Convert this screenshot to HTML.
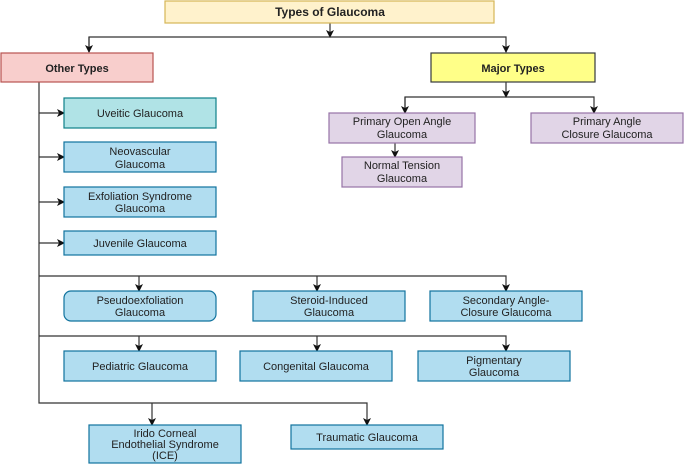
<!DOCTYPE html>
<html><head><meta charset="utf-8"><style>
body{margin:0;background:#fff}
svg text{font-family:"Liberation Sans",Arial,sans-serif;font-size:11px;fill:#222;text-anchor:middle}
</style></head><body>
<svg width="685" height="464" viewBox="0 0 685 464" xmlns="http://www.w3.org/2000/svg">
<defs><marker id="a" markerWidth="8" markerHeight="8" refX="7" refY="4" orient="auto" markerUnits="userSpaceOnUse"><path d="M0,0 L8,4 L0,8 L2,4 z" fill="#111"/></marker></defs>
<g stroke="#333" stroke-width="1.2" fill="none">
<path d="M330,23 V37" marker-end="url(#a)"/>
<path d="M89,52 V37 H506 V52" marker-end="url(#a)"/>
<path d="M89,37 V52" marker-end="url(#a)"/>
<path d="M506,82 V97" marker-end="url(#a)"/>
<path d="M405,113 V97 H594 V113" marker-end="url(#a)"/>
<path d="M405,97 V113" marker-end="url(#a)"/>
<path d="M395,143 V157" marker-end="url(#a)"/>
<path d="M39,82 V403 H367 V425" marker-end="url(#a)"/>
<path d="M152,403 V425" marker-end="url(#a)"/>
<path d="M39,113 H64" marker-end="url(#a)"/>
<path d="M39,157 H64" marker-end="url(#a)"/>
<path d="M39,202 H64" marker-end="url(#a)"/>
<path d="M39,243 H64" marker-end="url(#a)"/>
<path d="M39,276 H506 V291" marker-end="url(#a)"/>
<path d="M139,276 V291" marker-end="url(#a)"/>
<path d="M317,276 V291" marker-end="url(#a)"/>
<path d="M39,336 H506 V351" marker-end="url(#a)"/>
<path d="M139,336 V351" marker-end="url(#a)"/>
<path d="M317,336 V351" marker-end="url(#a)"/>
</g>
<g stroke-width="1.2">
<rect x="165" y="1" width="329" height="22" fill="#fff2cc" stroke="#d6b656"/>
<rect x="1" y="53" width="152" height="29" fill="#f8cecc" stroke="#b85450"/>
<rect x="431" y="53" width="164" height="29" fill="#ffff88" stroke="#36393d"/>
<rect x="329" y="113" width="146" height="30" fill="#e1d5e7" stroke="#9673a6"/>
<rect x="531" y="113" width="152" height="30" fill="#e1d5e7" stroke="#9673a6"/>
<rect x="342" y="157" width="120" height="30" fill="#e1d5e7" stroke="#9673a6"/>
<rect x="64" y="98" width="152" height="30" fill="#b0e3e6" stroke="#0e8088"/>
<g fill="#b1ddf0" stroke="#10739e">
<rect x="64" y="142" width="152" height="30"/>
<rect x="64" y="187" width="152" height="30"/>
<rect x="64" y="231" width="152" height="24"/>
<rect x="64" y="291" width="152" height="30" rx="7"/>
<rect x="253" y="291" width="152" height="30"/>
<rect x="430" y="291" width="152" height="30"/>
<rect x="64" y="351" width="152" height="30"/>
<rect x="240" y="351" width="152" height="30"/>
<rect x="418" y="351" width="152" height="30"/>
<rect x="89" y="425" width="152" height="38"/>
<rect x="291" y="425" width="152" height="24"/>
</g></g>
<text x="330" y="16" font-weight="bold" style="font-size:12px">Types of Glaucoma</text>
<text x="77" y="72" font-weight="bold">Other Types</text>
<text x="513" y="72" font-weight="bold">Major Types</text>
<text x="402" y="125">Primary Open Angle</text><text x="402" y="138">Glaucoma</text>
<text x="607" y="125">Primary Angle</text><text x="607" y="138">Closure Glaucoma</text>
<text x="402" y="169">Normal Tension</text><text x="402" y="182">Glaucoma</text>
<text x="140" y="117">Uveitic Glaucoma</text>
<text x="140" y="155">Neovascular</text><text x="140" y="168">Glaucoma</text>
<text x="140" y="200">Exfoliation Syndrome</text><text x="140" y="212">Glaucoma</text>
<text x="140" y="247">Juvenile Glaucoma</text>
<text x="140" y="304">Pseudoexfoliation</text><text x="140" y="316">Glaucoma</text>
<text x="329" y="304">Steroid-Induced</text><text x="329" y="316">Glaucoma</text>
<text x="506" y="304">Secondary Angle-</text><text x="506" y="316">Closure Glaucoma</text>
<text x="140" y="370">Pediatric Glaucoma</text>
<text x="316" y="370">Congenital Glaucoma</text>
<text x="494" y="364">Pigmentary</text><text x="494" y="376">Glaucoma</text>
<text x="165" y="437">Irido Corneal</text><text x="165" y="448">Endothelial Syndrome</text><text x="165" y="459">(ICE)</text>
<text x="367" y="441">Traumatic Glaucoma</text>
</svg>
</body></html>
